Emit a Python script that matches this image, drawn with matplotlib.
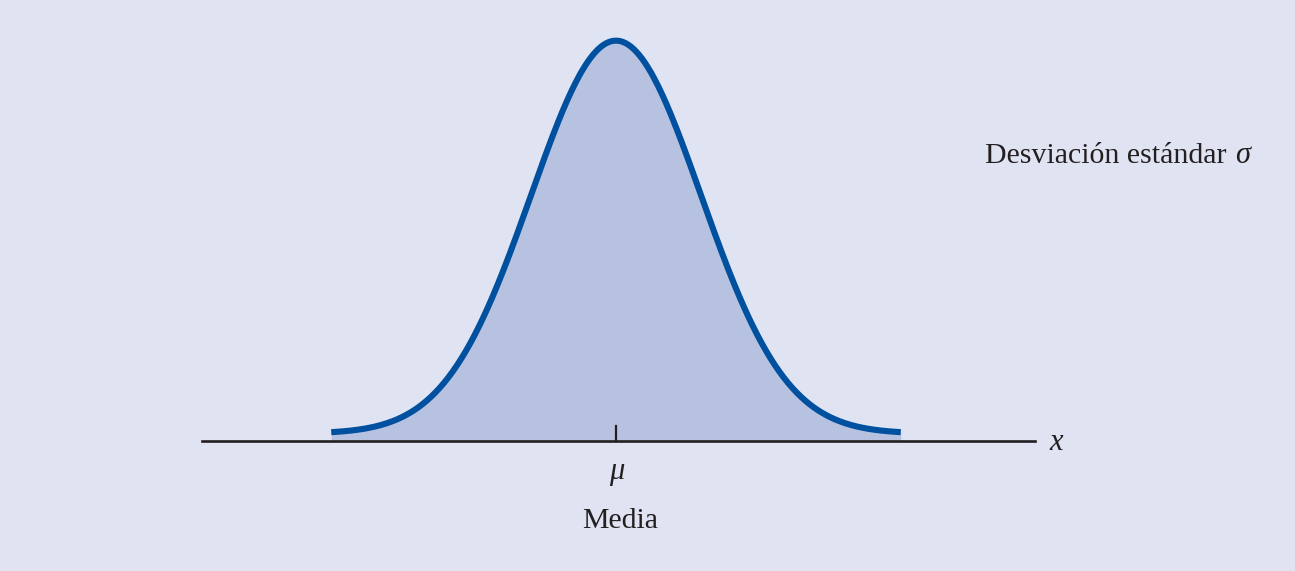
import numpy as np
import matplotlib.pyplot as plt

# normal curve parameters (drawn in units of sigma)
mu = 0.0
sigma = 1.0
z_min = -3.35
z_max = 3.35
axis_y = -0.008          # the horizontal axis sits a bit under the curve tails
axis_from, axis_to = -4.87, 4.93

label_mu = r"$\mu$"
label_media = "Media"
label_sigma = "Desviación estándar "
label_x = r"$x$"

bg = "#dfe3f2"
fill_col = "#b7c2e0"
line_col = "#0050a0"
ink = "#231f20"

xs = np.linspace(mu + z_min * sigma, mu + z_max * sigma, 400)
ys = np.exp(-0.5 * ((xs - mu) / sigma) ** 2) / (sigma * np.sqrt(2 * np.pi))

plt.rcParams['font.family'] = ['Liberation Serif', 'DejaVu Serif']
plt.rcParams['mathtext.fontset'] = 'custom'
plt.rcParams['mathtext.it'] = 'Liberation Serif:italic'
plt.rcParams['mathtext.rm'] = 'Liberation Serif'

fig = plt.figure(figsize=(12.95, 5.71), dpi=100, facecolor=bg)
ax = fig.add_axes([0, 0, 1, 1])
ax.set_facecolor(bg)
ax.set_xlim(-7.247, 7.988)
ax.set_ylim(-0.1395, 0.4402)
ax.axis('off')

ax.fill_between(xs, ys, axis_y, color=fill_col, lw=0)
ax.plot(xs, ys, color=line_col, lw=4.4, solid_capstyle='butt')
ax.plot([axis_from, axis_to], [axis_y, axis_y], color=ink, lw=1.9)
ax.plot([mu, mu], [axis_y, axis_y + 0.0155], color=ink, lw=1.6)

fig.text(617 / 1295, 1 - 473 / 571, label_mu, fontsize=22, ha='center', va='center', color=ink)
fig.text(620 / 1295, 1 - 528 / 571, label_media, fontsize=21.5, ha='center', va='baseline', color=ink)
fig.text(985 / 1295, 1 - 163 / 571, label_sigma, fontsize=21.5, ha='left', va='baseline', color=ink)
fig.text(1253 / 1295, 1 - 163 / 571, r"$\sigma$", fontsize=22, ha='right', va='baseline', color=ink)
fig.text(1049 / 1295, 1 - 450 / 571, label_x, fontsize=22, ha='left', va='baseline', color=ink)

fig.savefig("out.png", dpi=100, facecolor=bg)
